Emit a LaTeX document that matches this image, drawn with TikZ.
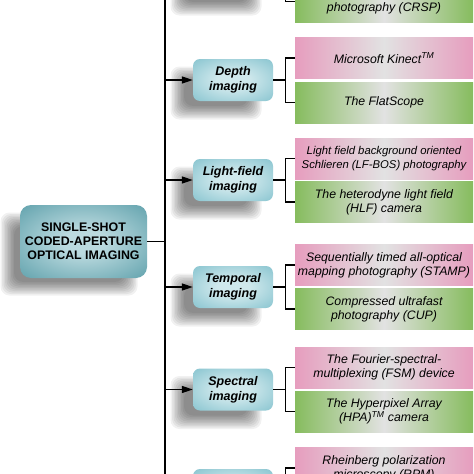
\documentclass[tikz,border=0pt]{standalone}
\usepackage{fontspec}
\setmainfont{Liberation Sans}
\usetikzlibrary{arrows.meta}
\definecolor{catout}{HTML}{5CAEBE}
\definecolor{catin}{HTML}{CFE8EC}
\definecolor{mainout}{HTML}{2E8290}
\definecolor{mainin}{HTML}{BBDADF}
\definecolor{pinkedge}{HTML}{E69DBE}
\definecolor{greenedge}{HTML}{86BC5E}
\definecolor{midgray}{HTML}{E2E2E2}
\pgfdeclareradialshading{catshade}{\pgfpoint{0bp}{0bp}}{color(0bp)=(catin); color(10bp)=(catin); color(52bp)=(catout); color(75bp)=(catout)}
\pgfdeclareradialshading{mainshade}{\pgfpoint{0bp}{0bp}}{color(0bp)=(mainin); color(8bp)=(mainin); color(52bp)=(mainout); color(75bp)=(mainout)}
% soft shadow: centre x, centre y, width, height
\newcommand{\softshadow}[4]{%
  \foreach \e in {-7,-5.5,...,7}{%
    \fill[black, opacity=0.055, rounded corners=9pt]
      ({#1-#3/2-\e},{#2-#4/2-\e}) rectangle ({#1+#3/2+\e},{#2+#4/2+\e});
  }%
}
\tikzset{
  catbox/.style={rounded corners=7pt, minimum width=80pt, minimum height=42pt,
    shading=catshade, align=center, inner sep=1pt,
    font=\fontsize{12.5}{15}\selectfont\bfseries\itshape},
  mainbox/.style={rounded corners=11pt, minimum width=127pt, minimum height=73pt,
    shading=mainshade, align=center, inner sep=1pt,
    font=\fontsize{12.4}{14.2}\selectfont\bfseries},
  pinkbox/.style={minimum width=178pt, minimum height=41pt, inner sep=1pt, align=center,
    left color=pinkedge, right color=pinkedge, middle color=midgray,
    font=\fontsize{12.3}{14}\selectfont\itshape},
  greenbox/.style={minimum width=178pt, minimum height=41pt, inner sep=1pt, align=center,
    left color=greenedge, right color=greenedge, middle color=midgray,
    font=\fontsize{12.3}{14}\selectfont\itshape},
  conn/.style={line width=1.3pt, black},
  arr/.style={line width=1.3pt, black, -{Triangle[length=11pt,width=7pt]}}
}
\begin{document}
\begin{tikzpicture}[x=1pt,y=-1pt]
\clip (0,0) rectangle (474,474);
\fill[white] (0,0) rectangle (474,474);
% shadows
\softshadow{69}{254}{124}{70}
\foreach \cy in {-24,80,180,287,389.5,490}{\softshadow{216}{\cy+13}{78}{40}}
% trunk
\coordinate (ttop) at (165,-5);
\coordinate (tbot) at (165,480);
\draw[conn] (ttop) -- (tbot);
% main box
\node[mainbox] (m) at (83.5,241.5) {SINGLE-SHOT\\CODED-APERTURE\\OPTICAL IMAGING};
\draw[conn] (m.east) -- (m.east -| ttop);
% categories
\node[catbox] (c1) at (233,-24) {};
\node[catbox] (c2) at (233,80) {Depth\\imaging};
\node[catbox] (c3) at (233,180) {Light-field\\imaging};
\node[catbox] (c4) at (233,287) {Temporal\\imaging};
\node[catbox] (c5) at (233,389.5) {Spectral\\imaging};
\node[catbox] (c6) at (233,490) {};
% examples
\node[pinkbox] (p1) at (384,-42) {};
\node[greenbox] (g1) at (384,1.5) {\strut\\\strut photography (CRSP)};
\node[pinkbox] (p2) at (384,58) {Microsoft Kinect\textsuperscript{TM}};
\node[greenbox] (g2) at (384,102.5) {The FlatScope};
\node[pinkbox, font=\fontsize{11.3}{14}\selectfont\itshape] (p3) at (384,158.5) {Light field background oriented\\Schlieren (LF-BOS) photography};
\node[greenbox] (g3) at (384,202) {The heterodyne light field\\(HLF) camera};
\node[pinkbox] (p4) at (384,265) {Sequentially timed all-optical\\mapping photography (STAMP)};
\node[greenbox] (g4) at (384,309) {Compressed ultrafast\\photography (CUP)};
\node[pinkbox] (p5) at (384,367.5) {The Fourier-spectral-\\multiplexing (FSM) device};
\node[greenbox] (g5) at (384,411.5) {The Hyperpixel Array\\(HPA)\textsuperscript{TM} camera};
\node[pinkbox] (p6) at (384,468) {Rheinberg polarization\\microscopy (RPM)};
\node[greenbox] (g6) at (384,512) {};
% arrows and brackets
\foreach \i in {1,...,6}{
  \coordinate (t\i) at (c\i.west -| ttop);
  \draw[arr] (t\i) -- (c\i.west);
  \coordinate (b\i) at ([xshift=12pt]c\i.east);
  \draw[conn] (c\i.east) -- (b\i);
  \draw[conn] (b\i) |- (p\i.west);
  \draw[conn] (b\i) |- (g\i.west);
}
\end{tikzpicture}
\end{document}
